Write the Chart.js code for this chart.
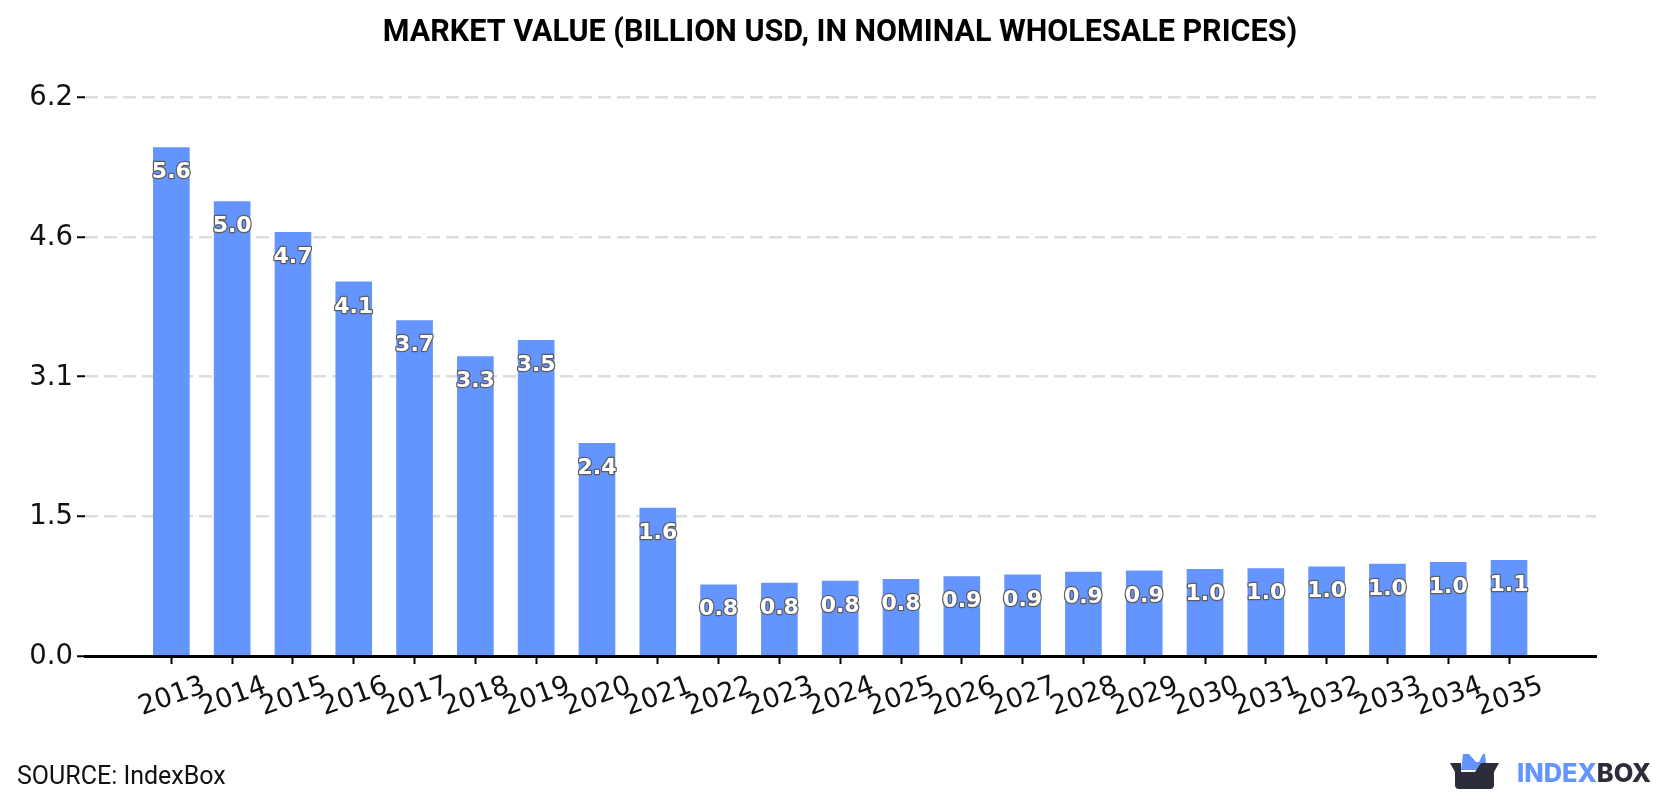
<!DOCTYPE html>
<html>
<head>
<meta charset="utf-8">
<style>
  html, body { margin: 0; padding: 0; background: #ffffff; }
  #wrap { position: relative; width: 1680px; height: 800px; }
</style>
<script src="https://cdn.jsdelivr.net/npm/chart.js@4"></script>
</head>
<body>
<div id="wrap"><canvas id="chart" width="1680" height="800"></canvas></div>
<script>
const years = [2013, 2014, 2015, 2016, 2017, 2018, 2019, 2020, 2021, 2022, 2023, 2024,
               2025, 2026, 2027, 2028, 2029, 2030, 2031, 2032, 2033, 2034, 2035];
const marketValue = [5.64, 5.04, 4.70, 4.149, 3.72, 3.32, 3.50, 2.36, 1.64, 0.79, 0.81, 0.83,
                     0.849, 0.88, 0.90, 0.93, 0.945, 0.96, 0.97, 0.99, 1.02, 1.04, 1.06];
const yTicks = [0, 1.55, 3.1, 4.65, 6.2];
const yTickLabels = ['0.0', '1.5', '3.1', '4.6', '6.2'];
const titleText = 'MARKET VALUE (BILLION USD, IN NOMINAL WHOLESALE PRICES)';
const sourceText = 'SOURCE: IndexBox';

const BLUE = '#6495ff';
const DARK = '#2b2d3a';

// White value labels with a thin grey outline, hung just inside the top of each bar.
const valueLabels = {
  id: 'valueLabels',
  afterDatasetsDraw(chart) {
    const ctx = chart.ctx;
    ctx.save();
    ctx.font = 'bold 22px "DejaVu Sans"';
    ctx.textAlign = 'center';
    ctx.textBaseline = 'middle';
    ctx.lineJoin = 'round';
    chart.getDatasetMeta(0).data.forEach((bar, i) => {
      const label = marketValue[i].toFixed(1);
      ctx.lineWidth = 2.5;
      ctx.strokeStyle = '#5c5c5c';
      ctx.strokeText(label, bar.x, bar.y + 25);
      ctx.fillStyle = '#ffffff';
      ctx.fillText(label, bar.x, bar.y + 25);
    });
    ctx.restore();
  }
};

// Heading centred on the page, source line and brand mark along the bottom edge.
const pageText = {
  id: 'pageText',
  afterDraw(chart) {
    const ctx = chart.ctx;
    ctx.save();
    ctx.textBaseline = 'middle';
    ctx.textAlign = 'center';
    ctx.fillStyle = '#000000';
    ctx.font = '700 30.5px Roboto';
    ctx.fillText(titleText, 840, 33);

    ctx.textBaseline = 'alphabetic';
    ctx.textAlign = 'left';
    ctx.fillStyle = '#111111';
    ctx.font = '400 25px Roboto';
    ctx.fillText(sourceText, 17, 784);

    // Open box with blue ears
    ctx.fillStyle = BLUE;
    ctx.beginPath();
    ctx.moveTo(1461, 770);
    ctx.lineTo(1463, 754);
    ctx.lineTo(1469, 754);
    ctx.lineTo(1476, 762);
    ctx.lineTo(1479, 762);
    ctx.lineTo(1483, 754);
    ctx.lineTo(1485, 754);
    ctx.lineTo(1487, 770);
    ctx.closePath();
    ctx.fill();
    ctx.fillStyle = DARK;
    ctx.beginPath();
    ctx.moveTo(1450, 763);
    ctx.lineTo(1461, 763);
    ctx.lineTo(1461, 772);
    ctx.lineTo(1475, 772);
    ctx.lineTo(1481, 763);
    ctx.lineTo(1499, 763);
    ctx.lineTo(1494, 772);
    ctx.lineTo(1494, 785);
    ctx.quadraticCurveTo(1494, 789, 1490, 789);
    ctx.lineTo(1459, 789);
    ctx.quadraticCurveTo(1455, 789, 1455, 785);
    ctx.lineTo(1455, 772);
    ctx.closePath();
    ctx.fill();

    ctx.font = '800 25.4px Inter';
    ctx.fillStyle = BLUE;
    ctx.fillText('INDEX', 1517, 782);
    const w = ctx.measureText('INDEX').width;
    ctx.fillStyle = DARK;
    ctx.fillText('BOX', 1517 + w, 782);
    ctx.restore();
  }
};

new Chart(document.getElementById('chart'), {
  type: 'bar',
  data: {
    datasets: [{
      data: years.map((year, i) => ({ x: year, y: marketValue[i] })),
      backgroundColor: BLUE,
      borderWidth: 0,
      barThickness: 36
    }]
  },
  plugins: [valueLabels, pageText],
  options: {
    responsive: false,
    animation: false,
    layout: { padding: { top: 97, left: 0, right: 84, bottom: 0 } },
    plugins: {
      legend: { display: false },
      tooltip: { enabled: false }
    },
    scales: {
      x: {
        type: 'linear',
        offset: false,
        min: 2011.58,
        max: 2036.43,
        afterFit(scale) { scale.height = 144; },
        afterBuildTicks(scale) { scale.ticks = years.map(value => ({ value })); },
        border: { display: true, color: '#000000', width: 3 },
        grid: { offset: false, drawOnChartArea: false, drawTicks: true, tickLength: 8, tickWidth: 2, tickColor: '#000000' },
        ticks: {
          autoSkip: false,
          minRotation: 20,
          maxRotation: 20,
          labelOffset: 33,
          padding: 6,
          color: '#111111',
          font: { family: 'DejaVu Sans', size: 27 },
          callback: value => String(value)
        }
      },
      y: {
        min: 0,
        max: 6.2,
        afterFit(scale) { scale.width = 85; },
        afterBuildTicks(scale) { scale.ticks = yTicks.map(value => ({ value })); },
        border: { display: false, dash: [13, 6] },
        grid: {
          color: ctx => (ctx.tick && ctx.tick.value === 0 ? 'rgba(0,0,0,0)' : '#dddddd'),
          lineWidth: 2.5,
          tickLength: 8,
          tickWidth: 2,
          tickColor: '#000000',
          tickBorderDash: []
        },
        ticks: {
          padding: 4,
          labelOffset: 1,
          color: '#111111',
          font: { family: 'DejaVu Sans', size: 27.5 },
          callback: value => yTickLabels[yTicks.indexOf(value)]
        }
      }
    }
  }
});
</script>
</body>
</html>
